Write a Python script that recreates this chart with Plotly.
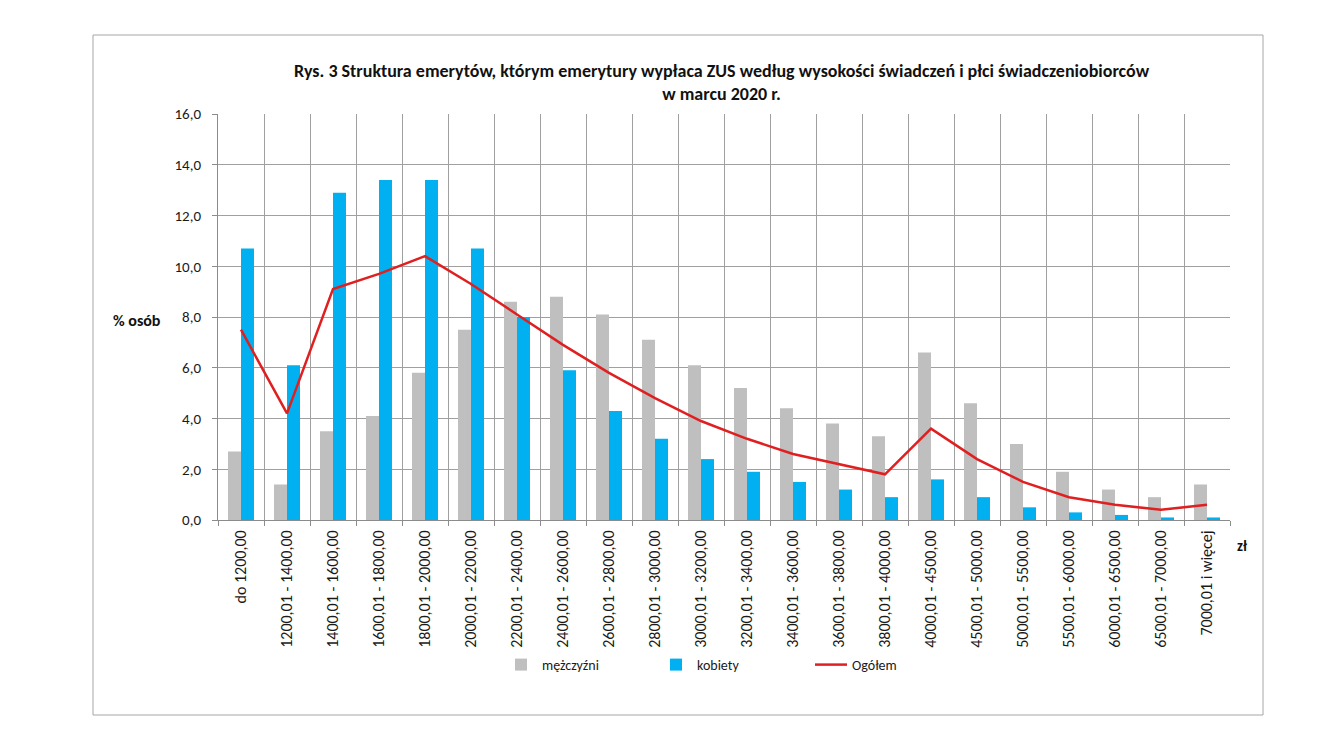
import plotly.graph_objects as go

categories = ["do 1200,00", "1200,01 - 1400,00", "1400,01 - 1600,00", "1600,01 - 1800,00",
              "1800,01 - 2000,00", "2000,01 - 2200,00", "2200,01 - 2400,00", "2400,01 - 2600,00",
              "2600,01 - 2800,00", "2800,01 - 3000,00", "3000,01 - 3200,00", "3200,01 - 3400,00",
              "3400,01 - 3600,00", "3600,01 - 3800,00", "3800,01 - 4000,00", "4000,01 - 4500,00",
              "4500,01 - 5000,00", "5000,01 - 5500,00", "5500,01 - 6000,00", "6000,01 - 6500,00",
              "6500,01 - 7000,00", "7000,01 i więcej"]
men = [2.7, 1.4, 3.5, 4.1, 5.8, 7.5, 8.6, 8.8, 8.1, 7.1, 6.1, 5.2, 4.4, 3.8, 3.3, 6.6, 4.6, 3.0, 1.9, 1.2, 0.9, 1.4]
women = [10.7, 6.1, 12.9, 13.4, 13.4, 10.7, 8.0, 5.9, 4.3, 3.2, 2.4, 1.9, 1.5, 1.2, 0.9, 1.6, 0.9, 0.5, 0.3, 0.2, 0.1, 0.1]
total = [7.5, 4.2, 9.1, 9.7, 10.4, 9.3, 8.1, 6.9, 5.8, 4.8, 3.9, 3.2, 2.6, 2.2, 1.8, 3.6, 2.4, 1.5, 0.9, 0.6, 0.4, 0.6]

FONT = "Carlito, Open Sans, sans-serif"

fig = go.Figure()
fig.add_trace(go.Bar(x=categories, y=men, name="mężczyźni", marker_color="#BFBFBF", marker_line_width=0))
fig.add_trace(go.Bar(x=categories, y=women, name="kobiety", marker_color="#00B0F0", marker_line_width=0))
fig.add_trace(go.Scatter(x=categories, y=total, name="Ogółem", mode="lines",
                         line=dict(color="#E02020", width=2.5)))

L, R, T, B = 218, 1230, 114, 520
W, H = 1336, 738
pw, ph = R - L, B - T

def px_x(x):
    return (x - L) / pw

def px_y(y):
    return (B - y) / ph

fig.update_layout(
    width=W, height=H,
    margin=dict(l=L, r=W - R, t=T, b=H - B, pad=0),
    paper_bgcolor="white", plot_bgcolor="white",
    barmode="group", bargap=0.435, bargroupgap=0,
    separators=",.",
    font=dict(family=FONT, size=14, color="#1a1a1a"),
    showlegend=True,
    legend=dict(orientation="h", x=px_x(500), y=px_y(665), xanchor="left", yanchor="middle",
                entrywidth=108, entrywidthmode="pixels", itemwidth=32,
                font=dict(size=14, family=FONT), bgcolor="rgba(0,0,0,0)"),
)
fig.update_xaxes(
    type="category", tickson="boundaries", tickangle=-90,
    showgrid=True, gridcolor="#A0A0A0", gridwidth=1,
    showline=True, linecolor="#8C8C8C", linewidth=1,
    ticks="outside", ticklen=5, tickcolor="#8C8C8C",
    ticklabelstandoff=3,
    tickfont=dict(size=16, family=FONT, color="#1a1a1a"),
)
fig.update_yaxes(
    range=[0, 16], dtick=2, tickformat=".1f",
    showgrid=True, gridcolor="#A0A0A0", gridwidth=1,
    showline=True, linecolor="#8C8C8C", linewidth=1,
    ticks="outside", ticklen=5, tickcolor="#8C8C8C",
    ticklabelstandoff=8,
    tickfont=dict(size=15, family=FONT, color="#1a1a1a"),
    zeroline=False,
)

# outer frame
fig.add_shape(type="rect", xref="paper", yref="paper",
              x0=px_x(93), x1=px_x(1263), y0=px_y(715), y1=px_y(35),
              line=dict(color="#A6A6A6", width=1), layer="below")

fig.add_annotation(xref="paper", yref="paper", x=px_x(722), y=px_y(82), xanchor="center", yanchor="middle",
                   text="<b>Rys. 3 Struktura emerytów, którym emerytury wypłaca ZUS według wysokości świadczeń i płci świadczeniobiorców</b><br><b>w marcu 2020 r.</b>",
                   showarrow=False, font=dict(size=18, family=FONT, color="#111"), align="center")
fig.add_annotation(xref="paper", yref="paper", x=px_x(137), y=px_y(320), xanchor="center", yanchor="middle",
                   text="<b>% osób</b>", showarrow=False, font=dict(size=16, family=FONT, color="#111"))
fig.add_annotation(xref="paper", yref="paper", x=px_x(1242), y=px_y(546), xanchor="center", yanchor="middle",
                   text="<b>zł</b>", showarrow=False, font=dict(size=15, family=FONT, color="#111"))

fig.write_html("out.html")
